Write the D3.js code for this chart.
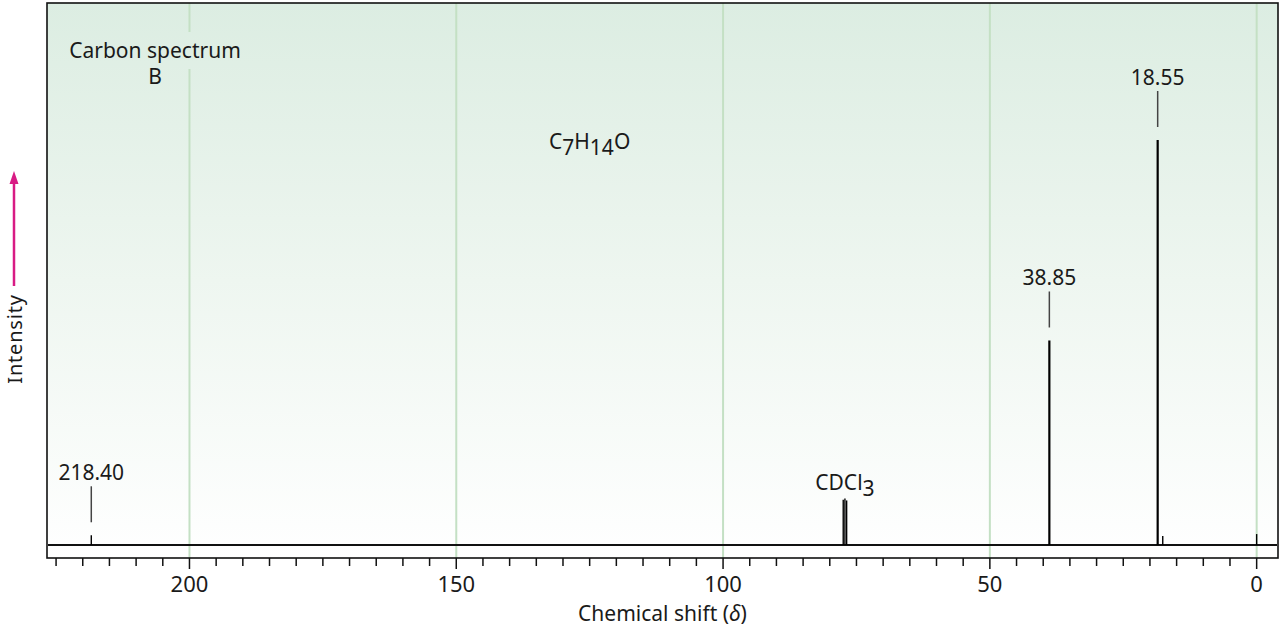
<!DOCTYPE html>
<html><head><meta charset="utf-8">
<script src="https://cdn.jsdelivr.net/npm/d3@7"></script>
<style>
html,body{margin:0;padding:0;background:#fff;}
svg{display:block;font-family:"Noto Sans",sans-serif;}
</style></head>
<body>
<svg id="chart" width="1280" height="629"></svg>
<script>
// ---- data ----
const peakShifts  = [218.40, 77.48, 77.16, 76.84, 38.85, 18.55, 17.60, 0.00];
const peakHeights = [2.4,    11.2,  11.5,  11.0,  50.5,  100,   2.2,   2.7];
const labelShifts = [218.40, 38.85, 18.55];
const labelTexts  = ["218.40", "38.85", "18.55"];
const labelHeights= [2.4, 50.5, 100];
const majorTicks  = [200, 150, 100, 50, 0];
const minorTicks  = d3.range(0, 230, 5);
const solventShift = 77.16, solventHeight = 11.5;

// ---- layout ----
const svg = d3.select("#chart");
const L = 47, R = 1278, T = 3, B = 558;
const x = d3.scaleLinear().domain([226.7, -4.0]).range([L, R]);
const y = d3.scaleLinear().domain([0, 100]).range([545, 140]);
const FS = 21;

const defs = svg.append("defs");
const grad = defs.append("linearGradient").attr("id","bg")
  .attr("gradientUnits","userSpaceOnUse").attr("x1",0).attr("y1",T).attr("x2",0).attr("y2",B);
grad.append("stop").attr("offset","0%").attr("stop-color","#dcede2");
grad.append("stop").attr("offset","50%").attr("stop-color","#eef6f0");
grad.append("stop").attr("offset","100%").attr("stop-color","#ffffff");

svg.append("rect").attr("x",L).attr("y",T).attr("width",R-L).attr("height",B-T).attr("fill","url(#bg)");

// grid
svg.append("g").selectAll("line").data(majorTicks).join("line")
  .attr("x1",d=>x(d)).attr("x2",d=>x(d)).attr("y1",T).attr("y2",B)
  .attr("stroke","#c4e0c4").attr("stroke-width",2);

// "Carbon spectrum" label with background masking grid
svg.append("rect").attr("x",66).attr("y",32).attr("width",180).attr("height",37).attr("fill","url(#bg)");
svg.append("text").attr("x",155).attr("y",58).attr("text-anchor","middle")
  .attr("font-size",FS).attr("fill","#1a1a1a").text("Carbon spectrum");
svg.append("text").attr("x",155).attr("y",84).attr("text-anchor","middle")
  .attr("font-size",FS).attr("fill","#1a1a1a").text("B");

// formula
const f = svg.append("text").attr("x",549).attr("y",149).attr("font-size",FS).attr("fill","#1a1a1a");
f.append("tspan").text("C");
f.append("tspan").attr("dy",6).text("7");
f.append("tspan").attr("dy",-6).text("H");
f.append("tspan").attr("dy",6).text("14");
f.append("tspan").attr("dy",-6).text("O");

// baseline
svg.append("line").attr("x1",L+1).attr("x2",R-1).attr("y1",y(0)).attr("y2",y(0))
  .attr("stroke","#111").attr("stroke-width",2);

// peaks
svg.append("g").selectAll("line").data(peakShifts).join("line")
  .attr("x1",d=>x(d)).attr("x2",d=>x(d))
  .attr("y1",y(0)).attr("y2",(d,i)=>y(peakHeights[i]))
  .attr("stroke","#000").attr("stroke-width",(d,i)=>peakHeights[i]>40?2.2:1.4);

// peak labels
const lg = svg.append("g");
labelShifts.forEach((s,i)=>{
  const top = y(labelHeights[i]);
  lg.append("line").attr("x1",x(s)).attr("x2",x(s)).attr("y1",top-13).attr("y2",top-49)
    .attr("stroke","#444").attr("stroke-width",1.5);
  lg.append("text").attr("x",x(s)).attr("y",top-55).attr("text-anchor","middle")
    .attr("font-size",FS).attr("fill","#1a1a1a").text(labelTexts[i]);
});
// solvent label
const sl = svg.append("text").attr("x",x(solventShift)).attr("y",y(solventHeight)-8)
  .attr("text-anchor","middle").attr("font-size",FS).attr("fill","#1a1a1a");
sl.append("tspan").text("CDCl");
sl.append("tspan").attr("dy",6).text("3");

// frame
svg.append("rect").attr("x",L).attr("y",T).attr("width",R-L).attr("height",B-T)
  .attr("fill","none").attr("stroke","#111").attr("stroke-width",1.6);

// x axis
const ax = svg.append("g").attr("transform",`translate(0,${B})`);
ax.selectAll("line.minor").data(minorTicks.filter(d=>x(d)>L+2 && x(d)<R-2)).join("line")
  .attr("class","minor").attr("x1",d=>x(d)).attr("x2",d=>x(d)).attr("y1",0)
  .attr("y2",d=>majorTicks.includes(d)?11:8).attr("stroke","#111").attr("stroke-width",1.5);
ax.selectAll("text").data(majorTicks).join("text")
  .attr("x",d=>x(d)).attr("y",34).attr("text-anchor","middle")
  .attr("font-size",22).attr("fill","#1a1a1a").text(d=>d);

const xt = svg.append("text").attr("x",(L+R)/2).attr("y",621).attr("text-anchor","middle")
  .attr("font-size",21).attr("fill","#1a1a1a");
xt.append("tspan").text("Chemical shift (");
xt.append("tspan").attr("font-style","italic").text("δ");
xt.append("tspan").text(")");

// intensity label + arrow
svg.append("text").attr("transform","translate(22,339) rotate(-90)").attr("text-anchor","middle")
  .attr("font-size",20).attr("letter-spacing",0.8).attr("fill","#1a1a1a").text("Intensity");
svg.append("line").attr("x1",14).attr("x2",14).attr("y1",286).attr("y2",182)
  .attr("stroke","#d81b84").attr("stroke-width",2.5);
svg.append("path").attr("d","M14,171 L9.5,184 L18.5,184 Z").attr("fill","#d81b84");
</script>
</body></html>
